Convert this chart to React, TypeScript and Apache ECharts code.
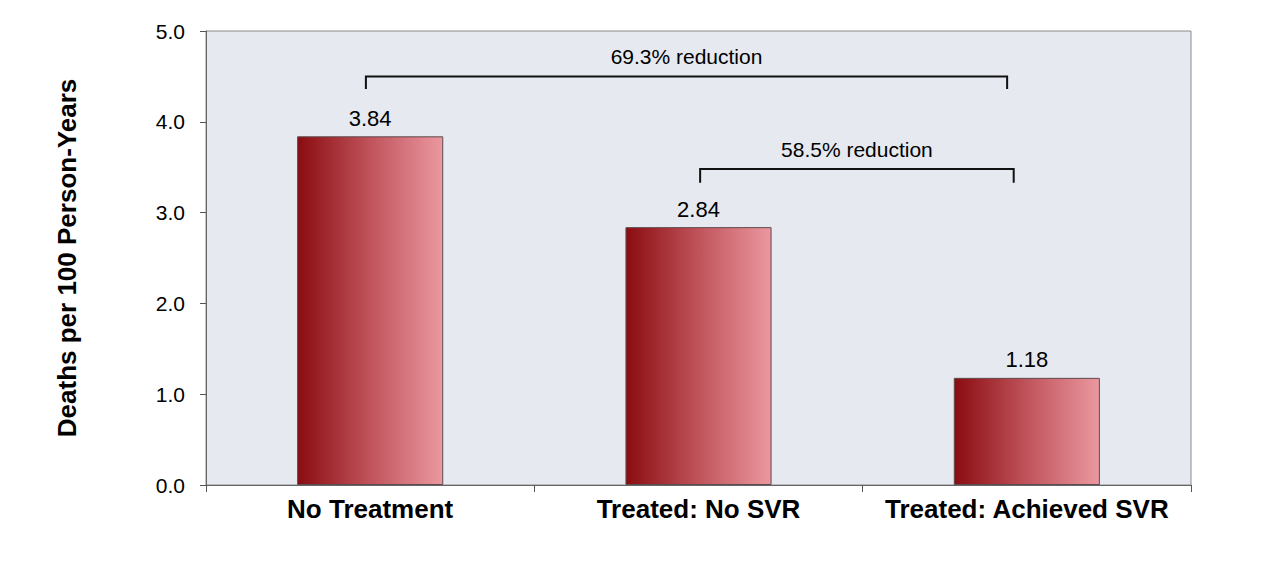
import * as echarts from 'echarts'
import { useEffect, useRef } from 'react'

const categories = ['No Treatment', 'Treated: No SVR', 'Treated: Achieved SVR']
const deathRates = [3.84, 2.84, 1.18]
const yTicks = { min: 0, max: 5, interval: 1 }

// brackets: positions on a hidden 0..3 value axis laid over the categories
const bracketLabels = ['69.3% reduction', '58.5% reduction']
const bracketFrom = [0.487, 1.505]
const bracketTo = [2.44, 2.46]
const bracketTop = [4.5, 3.48]
const bracketEnd = [4.36, 3.33]
const bracketLabelY = [4.72, 3.7]

const FONT = '"Liberation Sans", Arial, Helvetica, sans-serif'

export default function App() {
  const ref = useRef<HTMLDivElement | null>(null)

  useEffect(() => {
    if (!ref.current) return
    const chart = echarts.init(ref.current, undefined, { renderer: 'svg' })

    const barColor = new echarts.graphic.LinearGradient(0, 0, 1, 0, [
      { offset: 0, color: '#8a0c10' },
      { offset: 0.5, color: '#c0535b' },
      { offset: 1, color: '#eb98a0' },
    ])

    chart.setOption({
      animation: false,
      backgroundColor: '#ffffff',
      textStyle: { fontFamily: FONT },
      grid: {
        left: 206,
        right: 89,
        top: 31,
        bottom: 80,
        show: true,
        backgroundColor: '#e6e9f0',
        borderColor: '#8a8a8a',
        borderWidth: 1,
      },
      xAxis: [
        {
          type: 'category',
          data: categories,
          axisLine: { lineStyle: { color: '#666', width: 1 } },
          axisTick: { show: true, interval: 0, length: 7, lineStyle: { color: '#555' } },
          axisLabel: {
            interval: 0,
            color: '#000',
            fontSize: 26,
            fontWeight: 'bold',
            fontFamily: FONT,
            margin: 11,
          },
        },
        { type: 'value', min: 0, max: 3, show: false, position: 'top' },
      ],
      yAxis: {
        type: 'value',
        min: yTicks.min,
        max: yTicks.max,
        interval: yTicks.interval,
        name: 'Deaths per 100 Person-Years',
        nameLocation: 'middle',
        nameRotate: 90,
        nameGap: 126,
        nameTextStyle: { color: '#000', fontSize: 26, fontWeight: 'bold', fontFamily: FONT },
        axisLine: { show: true, lineStyle: { color: '#666' } },
        axisTick: { show: true, length: 6, lineStyle: { color: '#555' } },
        splitLine: { show: false },
        axisLabel: {
          color: '#000',
          fontSize: 21,
          fontFamily: FONT,
          margin: 21,
          formatter: (v: number) => v.toFixed(1),
        },
      },
      series: [
        {
          type: 'bar',
          data: deathRates,
          barWidth: '44.5%',
          itemStyle: { color: barColor, borderColor: '#5e4b4d', borderWidth: 1 },
          label: {
            show: true,
            position: 'top',
            distance: 7,
            color: '#000',
            fontSize: 22,
            fontFamily: FONT,
          },
        },
        {
          type: 'custom',
          xAxisIndex: 1,
          yAxisIndex: 0,
          silent: true,
          data: bracketLabels.map((_, i) => [
            bracketFrom[i],
            bracketTo[i],
            bracketTop[i],
            bracketEnd[i],
            bracketLabelY[i],
          ]),
          renderItem: (params: any, api: any) => {
            const from = api.value(0)
            const to = api.value(1)
            const top = api.value(2)
            const end = api.value(3)
            const ly = api.value(4)
            const a = api.coord([from, end])
            const b = api.coord([from, top])
            const c = api.coord([to, top])
            const d = api.coord([to, end])
            const t = api.coord([(from + to) / 2, ly])
            return {
              type: 'group',
              children: [
                {
                  type: 'polyline',
                  shape: { points: [a, b, c, d] },
                  style: { stroke: '#111', lineWidth: 2, fill: null },
                },
                {
                  type: 'text',
                  x: t[0],
                  y: t[1],
                  style: {
                    text: bracketLabels[params.dataIndex],
                    fill: '#000',
                    fontSize: 21,
                    fontFamily: FONT,
                    align: 'center',
                    verticalAlign: 'middle',
                    textAlign: 'center',
                    textVerticalAlign: 'middle',
                  },
                },
              ],
            }
          },
        },
      ],
    })

    return () => chart.dispose()
  }, [])

  return (
    <div
      ref={ref}
      style={{ position: 'absolute', left: 0, top: 0, width: 1280, height: 565 }}
    />
  )
}
